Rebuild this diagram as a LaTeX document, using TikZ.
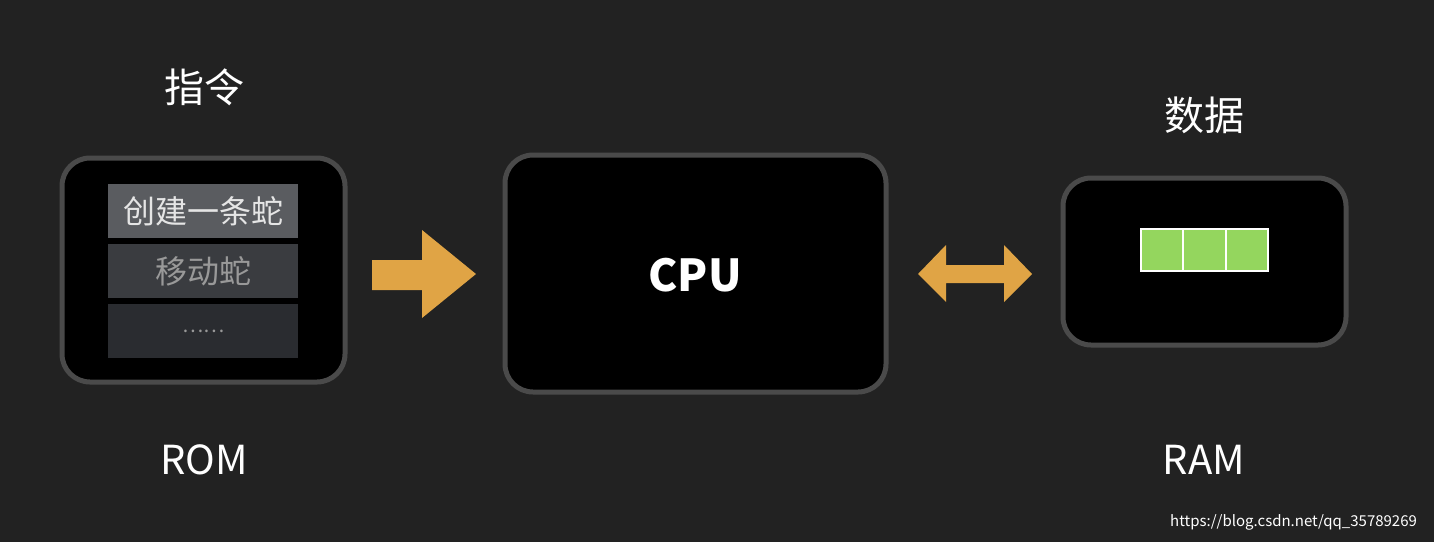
\documentclass[tikz,border=0pt]{standalone}
\usepackage{fontspec}
\setmainfont{Noto Sans CJK SC}
\begin{document}
\definecolor{bg}{HTML}{222222}
\definecolor{ar}{HTML}{E0A445}
\definecolor{ca}{HTML}{5A5C60}
\definecolor{cb}{HTML}{3A3C40}
\definecolor{cc}{HTML}{2A2C30}
\definecolor{gr}{HTML}{94D65E}
\definecolor{gl}{HTML}{4A4A4A}
\begin{tikzpicture}[x=0.5pt,y=-0.5pt,
 box/.style={fill=black,draw=gl,line width=2.5pt,rounded corners=14pt},
 row/.style={minimum width=95pt,minimum height=27pt,inner sep=0pt,anchor=north west},
 lbl/.style={text=white,font=\fontsize{20}{22}\selectfont}]
\fill[bg] (0,0) rectangle (1434,542);
\useasboundingbox (0,0) rectangle (1434,542);
% ROM
\draw[box] (62,158) rectangle (345,382);
\node[row,fill=ca,text=white!90!black,font=\fontsize{16}{17}\selectfont] (r1) at (108,184) {创建一条蛇};
\node[row,fill=cb,text=gray!80,font=\fontsize{16}{17}\selectfont] (r2) at (108,244) {移动蛇};
\node[row,fill=cc,text=gray!80,font=\fontsize{10}{12}\selectfont] (r3) at (108,304) {……};
\node[lbl] (t1) at (204,87) {指令};
\node[lbl] (t2) at (204,460) {ROM};
% CPU
\draw[box] (505,155) rectangle (886,392);
\node[text=white,font=\bfseries\fontsize{22}{24}\selectfont] (cpu) at (695,275) {CPU};
% RAM
\draw[box] (1063,178) rectangle (1346,345);
\foreach \i in {0,1,2}{
 \fill[gr,draw=white,line width=1pt] (1141+42.3*\i,229) rectangle (1141+42.3*\i+42.3,271);}
\node[lbl] (t3) at (1204,115) {数据};
\node[lbl] (t4) at (1204,460) {RAM};
% arrows
\fill[ar] (372,260) -- (422,260) -- (422,230) -- (476,274) -- (422,318) -- (422,290) -- (372,290) -- cycle;
\fill[ar] (918,274) -- (946,245) -- (946,265) -- (1004,265) -- (1004,245) -- (1032,274) -- (1004,302) -- (1004,283) -- (946,283) -- (946,302) -- cycle;
\node[text=white,font=\fontsize{7.5}{9}\selectfont,anchor=east] (w) at (1424,522) {https://blog.csdn.net/qq\_35789269};
\end{tikzpicture}
\end{document}
